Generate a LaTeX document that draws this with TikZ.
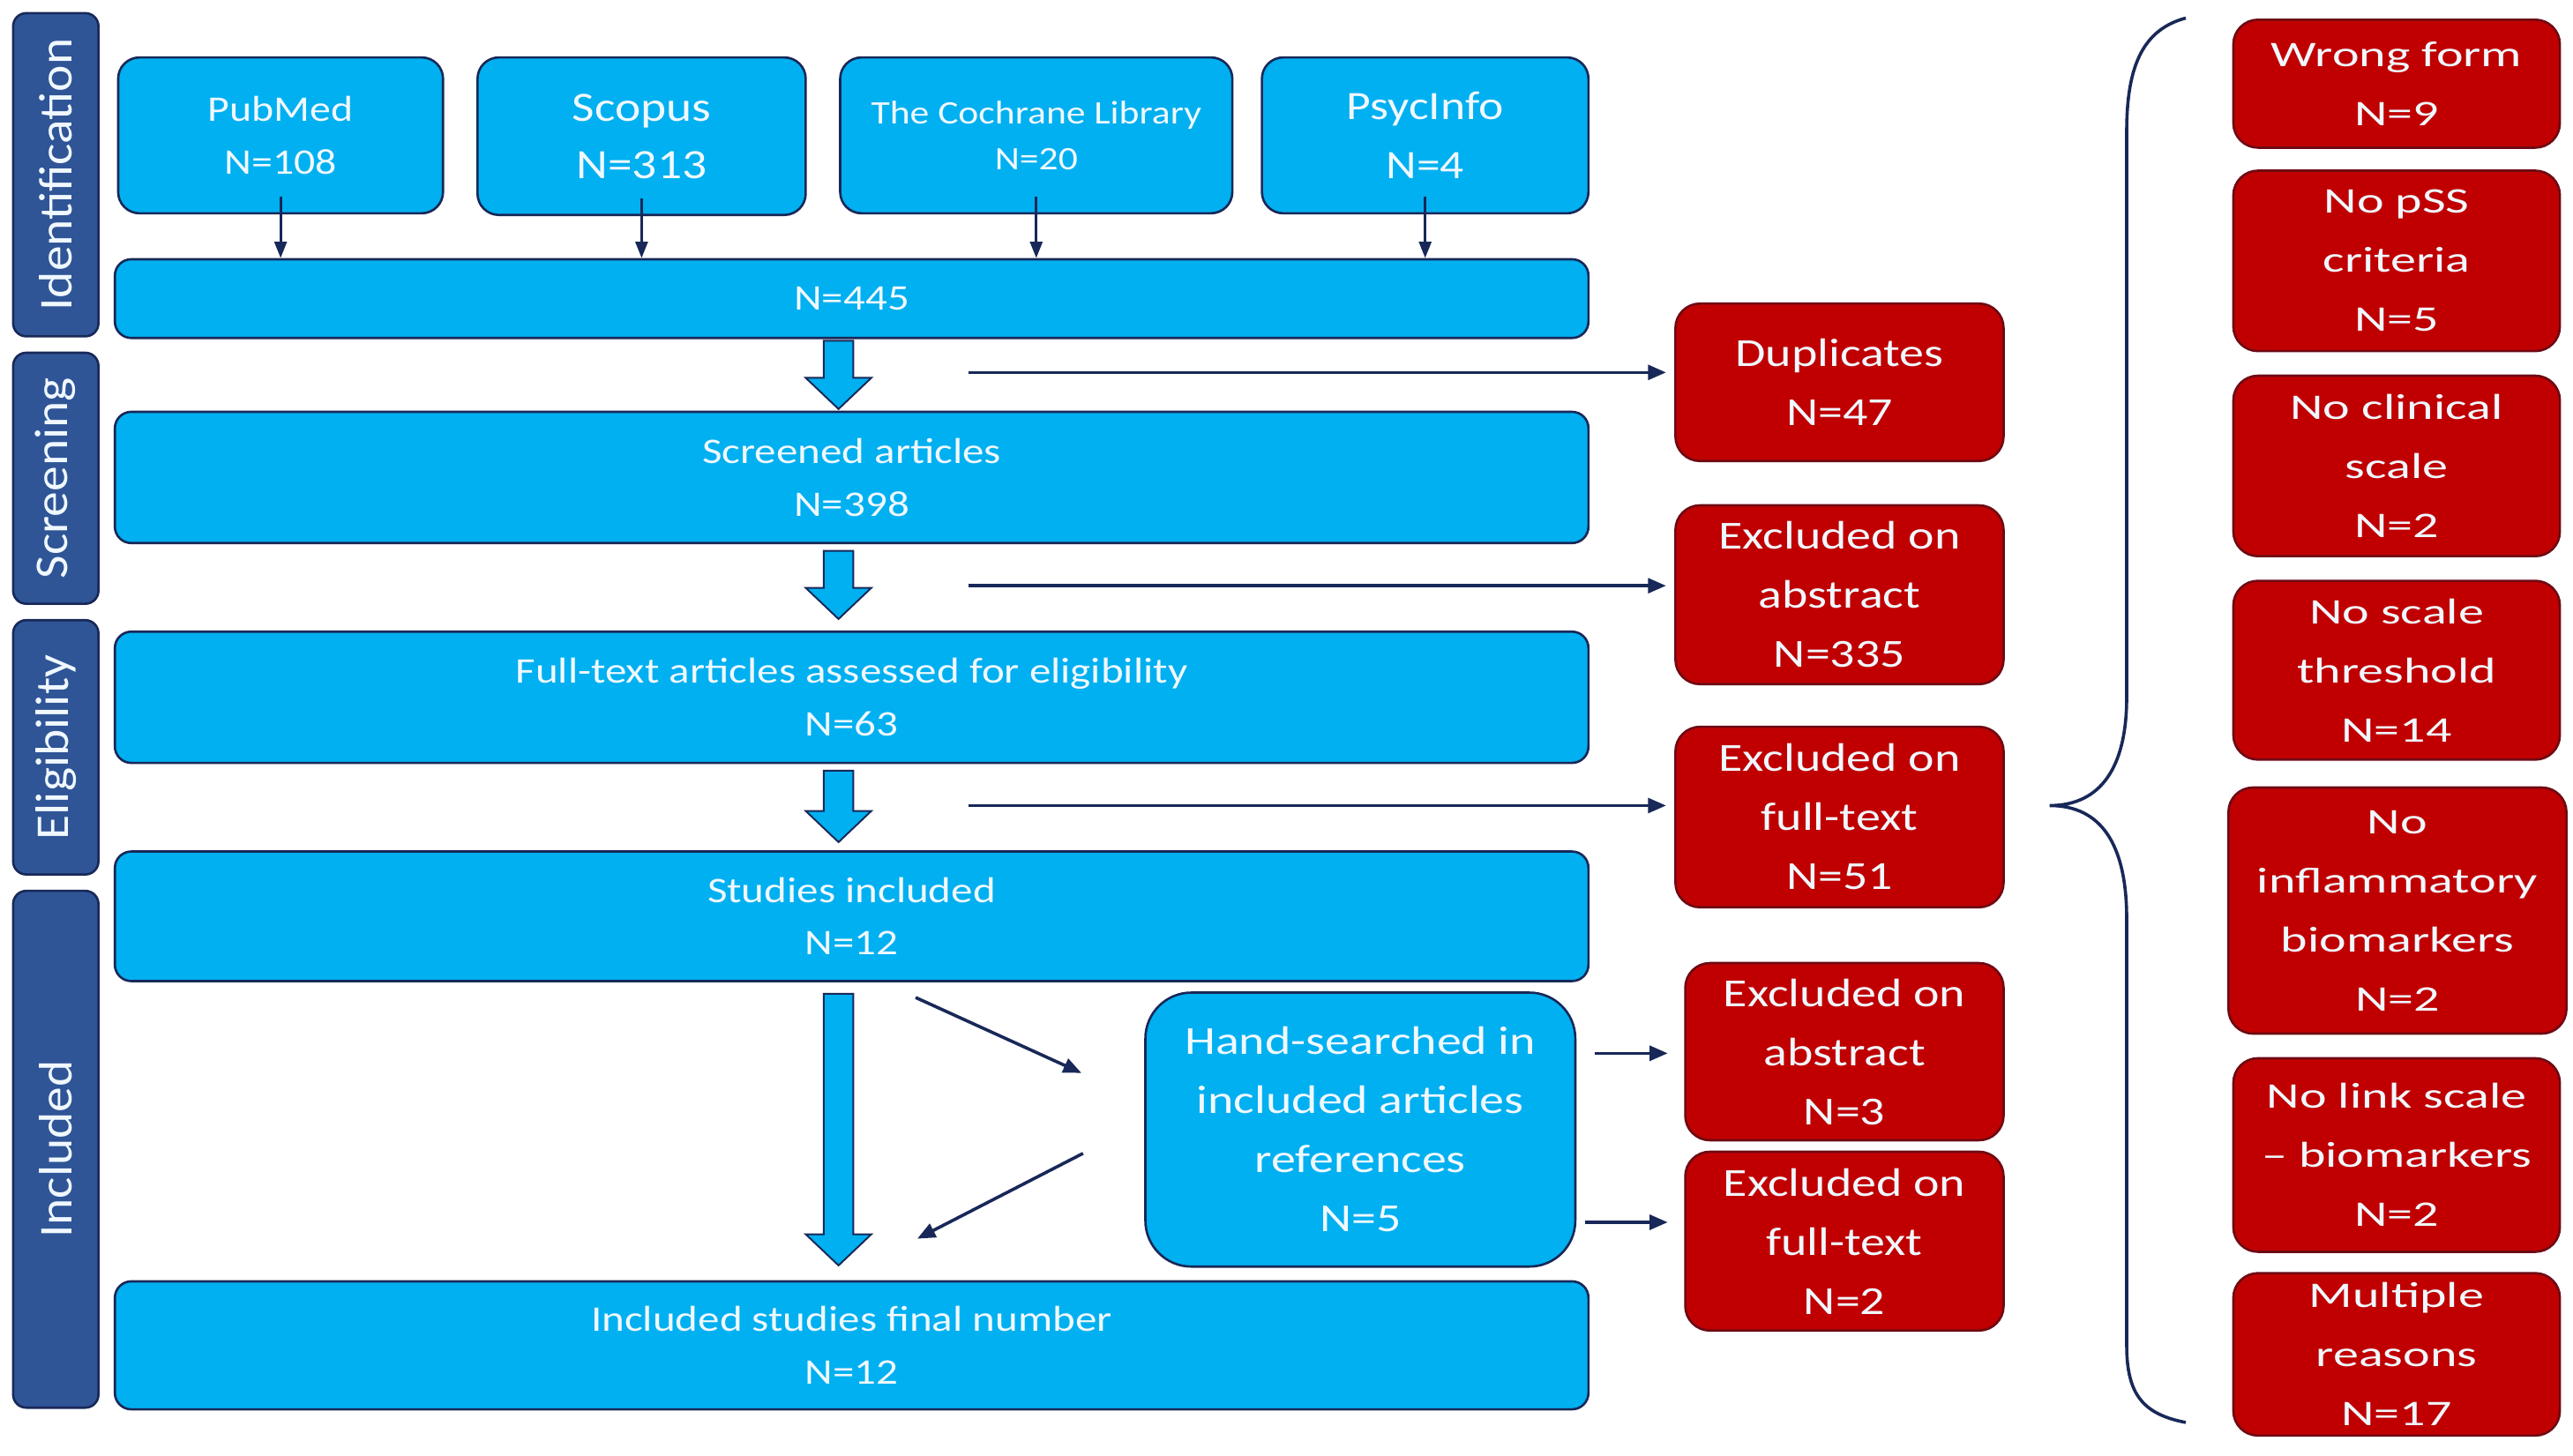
\documentclass[tikz,border=0pt]{standalone}
\usepackage{fontspec}
\setmainfont{Carlito}
\newfontfamily\fmain[FakeStretch=1.2]{Carlito}
\newfontfamily\fsrc[FakeStretch=1.17]{Carlito}
\newfontfamily\fred[FakeStretch=1.24]{Carlito}
\newfontfamily\fright[FakeStretch=1.42]{Carlito}
\newfontfamily\fside[FakeStretch=1.08]{Carlito}
\usetikzlibrary{arrows.meta,calc}
\definecolor{lblue}{RGB}{0,176,240}
\definecolor{navy}{RGB}{24,40,88}
\definecolor{sideblue}{RGB}{47,85,151}
\definecolor{dred}{RGB}{192,0,0}
\definecolor{redline}{RGB}{110,10,20}
\definecolor{txt}{RGB}{240,248,255}
\newcommand\placebox[7]{\node[#6, minimum width={(#4-#2)*0.02cm}, minimum height={(#5-#3)*0.02cm}] (#1) at ({(#2+#4)/2},{(#3+#5)/2}) {#7};}
\newcommand\blockarrow[4]{%
  \draw[barrowst] ($(ac|-#1.south)+(-9,#3)$) -- ($(ac|-#2.north)+(-9,-#4-19)$) -- ($(ac|-#2.north)+(-20,-#4-19)$) -- ($(ac|-#2.north)+(0,-#4)$) -- ($(ac|-#2.north)+(20,-#4-19)$) -- ($(ac|-#2.north)+(9,-#4-19)$) -- ($(ac|-#1.south)+(9,#3)$) -- cycle;}
\tikzset{
  basebox/.style={align=center, inner sep=0pt, text=txt},
  bluebox/.style={basebox, draw=navy, line width=0.8pt, fill=lblue, rounded corners=0.2cm, font=\fmain\fontsize{12.5}{18.2}\selectfont},
  srcbox/.style={bluebox, rounded corners=0.26cm},
  handbox/.style={bluebox, rounded corners=0.56cm, font=\fred\fontsize{13.8}{20.5}\selectfont},
  redbox/.style={basebox, draw=redline, line width=0.8pt, fill=dred, rounded corners=0.3cm, font=\fred\fontsize{13.8}{20.5}\selectfont},
  rightbox/.style={redbox, font=\fright\fontsize{12.5}{20.5}\selectfont},
  sidebox/.style={basebox, draw=navy, line width=0.8pt, fill=sideblue, rounded corners=0.16cm, font=\fside\fontsize{16.3}{18}\selectfont},
  barrowst/.style={fill=lblue, draw=navy, line width=0.6pt, line join=miter},
  thinarr/.style={draw=navy, line width=1.1pt, -{Triangle[length=0.22cm,width=0.18cm]}},
  srcarr/.style={draw=navy, line width=0.9pt, -{Triangle[length=0.2cm,width=0.15cm]}}
}
\begin{document}
\begin{tikzpicture}[x=0.02cm, y=-0.02cm]
\useasboundingbox (0,0) rectangle (1568,887);
\fill[white] (0,0) rectangle (1568,887);
% sidebars
\placebox{s1}{8}{8}{60}{205}{sidebox}{\rotatebox{90}{Identification}}
\placebox{s2}{8}{215}{60}{368}{sidebox}{\rotatebox{90}{Screening}}
\placebox{s3}{8}{378}{60}{533}{sidebox}{\rotatebox{90}{Eligibility}}
\placebox{s4}{8}{543}{60}{858}{sidebox}{\rotatebox{90}{Included}}
% sources
\placebox{pub}{72}{35}{270}{130}{srcbox, font=\fsrc\fontsize{12.5}{18.2}\selectfont}{PubMed\\N=108}
\placebox{sco}{291}{35}{491}{131}{srcbox, font=\fsrc\fontsize{14.5}{19.9}\selectfont}{Scopus\\N=313}
\placebox{coc}{512}{35}{751}{130}{srcbox, font=\fsrc\fontsize{11.4}{15.9}\selectfont}{The Cochrane Library\\N=20}
\placebox{psy}{769}{35}{968}{130}{srcbox, font=\fsrc\fontsize{14}{20.5}\selectfont}{PsycInfo\\N=4}
% main column
\placebox{n445}{70}{158}{968}{206}{bluebox}{N=445}
\placebox{scr}{70}{251}{968}{331}{bluebox}{Screened articles\\N=398}
\placebox{ful}{70}{385}{968}{465}{bluebox}{Full-text articles assessed for eligibility\\N=63}
\placebox{inc}{70}{519}{968}{598}{bluebox}{Studies included\\N=12}
\placebox{fin}{70}{781}{968}{859}{bluebox}{Included studies final number\\N=12}
\placebox{hand}{698}{605}{960}{772}{handbox}{Hand-searched in\\included articles\\references\\N=5}
% red middle
\placebox{dup}{1021}{185}{1221}{281}{redbox}{Duplicates\\N=47}
\placebox{exa}{1021}{308}{1221}{417}{redbox}{Excluded on\\abstract\\N=335}
\placebox{exf}{1021}{443}{1221}{553}{redbox}{Excluded on\\full-text\\N=51}
\placebox{exb}{1027}{587}{1221}{695}{redbox}{Excluded on\\abstract\\N=3}
\placebox{exc}{1027}{702}{1221}{811}{redbox}{Excluded on\\full-text\\N=2}
% right column
\placebox{r1}{1361}{12}{1560}{90}{rightbox}{Wrong form\\N=9}
\placebox{r2}{1361}{104}{1560}{214}{rightbox}{No pSS\\criteria\\N=5}
\placebox{r3}{1361}{229}{1560}{339}{rightbox}{No clinical\\scale\\N=2}
\placebox{r4}{1361}{354}{1560}{463}{rightbox}{No scale\\threshold\\N=14}
\placebox{r5}{1358}{480}{1564}{630}{rightbox}{No\\inflammatory\\biomarkers\\N=2}
\placebox{r6}{1361}{645}{1560}{763}{rightbox}{No link scale\\– biomarkers\\N=2}
\placebox{r7}{1361}{776}{1560}{875}{rightbox}{Multiple\\reasons\\N=17}
% source arrows
\foreach \s in {pub,sco,coc,psy}
  \draw[srcarr] ($(\s.south)+(0,-11)$) -- (\s.south |- n445.north);
% block arrows
\coordinate (ac) at (511,0);
\blockarrow{n445}{scr}{1}{1}
\blockarrow{scr}{ful}{4}{7}
\blockarrow{ful}{inc}{4}{5}
\blockarrow{inc}{fin}{7}{9}
% exclusion arrows
\coordinate (e1) at (590,227);
\coordinate (e2) at (590,357);
\coordinate (e3) at (590,491);
\draw[thinarr, shorten >=0.1cm] (e1) -- (e1 -| dup.west);
\draw[thinarr, shorten >=0.1cm] (e2) -- (e2 -| exa.west);
\draw[thinarr, shorten >=0.1cm] (e3) -- (e3 -| exf.west);
% hand-search arrows
\coordinate (d1) at (558,608);
\coordinate (d2) at (659,654);
\coordinate (d3) at (660,703);
\coordinate (d4) at (559,755);
\draw[thinarr] (d1) -- (d2);
\draw[thinarr] (d3) -- (d4);
\coordinate (h1) at (972,642);
\coordinate (h2) at (966,745);
\draw[thinarr, shorten >=0.2cm] (h1) -- (h1 -| exb.west);
\draw[thinarr, shorten >=0.2cm] (h2) -- (h2 -| exc.west);
% brace
\draw[navy, line width=1.1pt] (1332,11) .. controls (1306,18) and (1296,40) .. (1296,80) -- (1296,425) .. controls (1296,468) and (1280,491) .. (1249,491) .. controls (1280,491) and (1296,514) .. (1296,560) -- (1296,820) .. controls (1296,850) and (1306,862) .. (1332,867);
\end{tikzpicture}
\end{document}
